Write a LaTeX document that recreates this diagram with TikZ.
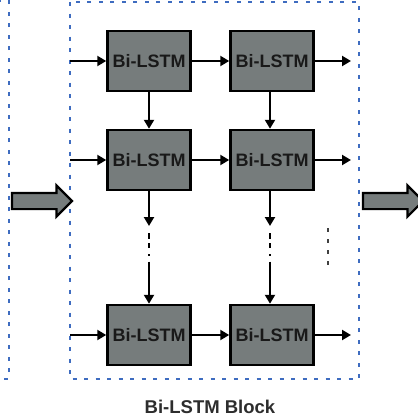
\documentclass[tikz,border=0pt]{standalone}
\usepackage{fontspec}
\setmainfont{Liberation Sans}
\usepackage{xcolor}
\usetikzlibrary{shapes,arrows.meta,positioning}
\definecolor{cellgray}{RGB}{118,124,124}
\definecolor{blockblue}{RGB}{62,108,192}
\definecolor{labelgray}{RGB}{45,45,45}
\tikzstyle{cell}    =[rectangle, draw=black, line width=2.5pt, fill=cellgray,
                      minimum width=83pt, minimum height=60pt, inner sep=0pt,
                      text=black!90, font=\fontsize{18}{18}\selectfont\bfseries]
\tikzstyle{arr}     =[-{Triangle[length=9pt,width=10pt]}, line width=2.3pt]
\tikzstyle{skip}    =[line width=2.3pt, dash pattern=on 6pt off 4pt on 5pt off 6pt on 1.5pt]
\tikzstyle{frame}   =[draw=blockblue, line width=2.6pt, dash pattern=on 4pt off 7.5pt]
\tikzstyle{bigarrow}=[single arrow, draw=black, line width=2.2pt, fill=cellgray,
                      minimum height=60pt, inner xsep=0pt, inner ysep=7pt,
                      single arrow head extend=7.5pt]

\begin{document}
\begin{tikzpicture}[x=1pt, y=-1pt]
  \useasboundingbox (0,0) rectangle (418,418);

  % ── dashed frames ──────────────────────────────────────────────────────────
  \draw[frame] (-20,1) rectangle (9,379);
  \draw[frame] (70,2)  rectangle (359,379);

  % ── cells at explicit coordinates ──────────────────────────────────────────
  \node[cell] (c11) at (149, 61)  {Bi-LSTM};
  \node[cell] (c12) at (272, 61)  {Bi-LSTM};
  \node[cell] (c21) at (149,160)  {Bi-LSTM};
  \node[cell] (c22) at (272,160)  {Bi-LSTM};
  \node[cell] (c31) at (149,335)  {Bi-LSTM};
  \node[cell] (c32) at (272,335)  {Bi-LSTM};

  \coordinate (in1)  at (70, 61);  \coordinate (out1) at (351, 61);
  \coordinate (in2)  at (70,160);  \coordinate (out2) at (351,160);
  \coordinate (in3)  at (70,335);  \coordinate (out3) at (351,335);

  % ── horizontal flow ─────────────────────────────────────────────────────────
  \draw[arr] (in1) -- (c11);  \draw[arr] (c11) -- (c12);  \draw[arr] (c12) -- (out1);
  \draw[arr] (in2) -- (c21);  \draw[arr] (c21) -- (c22);  \draw[arr] (c22) -- (out2);
  \draw[arr] (in3) -- (c31);  \draw[arr] (c31) -- (c32);  \draw[arr] (c32) -- (out3);

  % ── vertical flow with skipped layers ──────────────────────────────────────
  \draw[arr] (c11) -- (c21);
  \draw[arr] (c12.south -| 270,0) -- (c22.north -| 270,0);

  \coordinate (d1) at (149,226);  \coordinate (e1) at (149,233);  \coordinate (f1) at (149,262);
  \coordinate (d2) at (270,226);  \coordinate (e2) at (270,233);  \coordinate (f2) at (270,262);
  \draw[arr]  (c21.south) -- (d1);
  \draw[skip] (e1) -- (f1);
  \draw[arr]  (f1) -- (c31.north);
  \draw[arr]  (c22.south -| d2) -- (d2);
  \draw[skip] (e2) -- (f2);
  \draw[arr]  (f2) -- (c32.north -| f2);

  \coordinate (g1) at (328,228);  \coordinate (g2) at (328,270);
  \draw[line width=2.3pt, black!75, dash pattern=on 4pt off 7pt] (g1) -- (g2);

  % ── block input / output ────────────────────────────────────────────────────
  \node[bigarrow] (feedin)  at (38,201)  {};
  \node[bigarrow] (feedout) at (389,201) {};

  \node[font=\fontsize{18.5}{18.5}\selectfont\bfseries, text=labelgray] (blocklabel)
    at (210,407) {Bi-LSTM Block};

\end{tikzpicture}
\end{document}
